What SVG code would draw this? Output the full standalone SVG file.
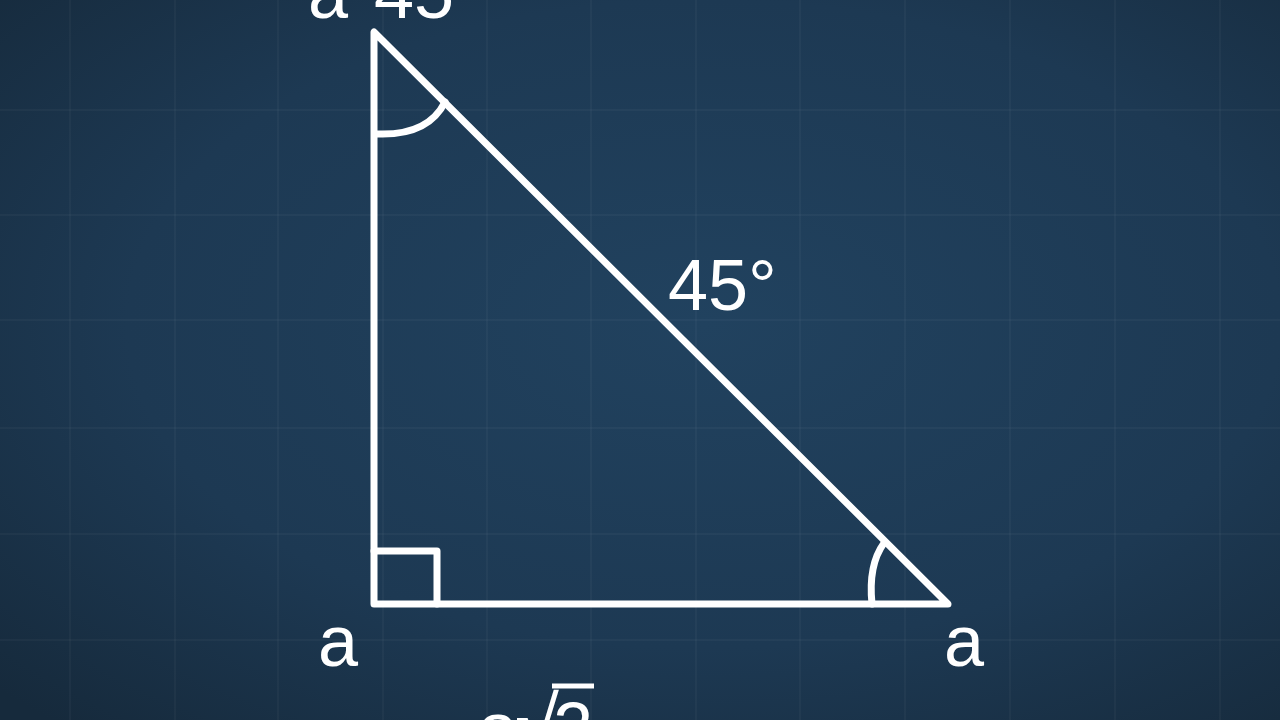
<svg xmlns="http://www.w3.org/2000/svg" width="1280" height="720" viewBox="0 0 1280 720">
<defs>
<radialGradient id="bg" cx="0.55" cy="0.45" r="0.75">
<stop offset="0" stop-color="#21425f"/>
<stop offset="0.6" stop-color="#1d3953"/>
<stop offset="1" stop-color="#162a3c"/>
</radialGradient>
<style>
.grid{stroke:#ffffff;stroke-opacity:0.03;stroke-width:2}
.shape{fill:none;stroke:#ffffff;stroke-width:7;stroke-linejoin:round;stroke-linecap:round}
.lbl{fill:#ffffff;font-family:"Liberation Sans",Arial,sans-serif;font-size:72px}
</style>
</defs>
<rect width="1280" height="720" fill="url(#bg)"/>
<g id="grid">
<path class="grid" d="M70 0V720M175 0V720M278 0V720M383 0V720M487 0V720M591 0V720M696 0V720M800 0V720M905 0V720M1010 0V720M1115 0V720M1220 0V720"/>
<path class="grid" d="M0 110H1280M0 215H1280M0 320H1280M0 428H1280M0 534H1280M0 640H1280"/>
</g>
<g id="triangle">
<path class="shape" d="M374 32 L374 604 L948 604 Z"/>
</g>
<g id="right-angle">
<path class="shape" d="M374 551 H437 V604"/>
</g>
<g id="angle-top">
<path class="shape" d="M377 134 Q428 136 445 102"/>
</g>
<g id="angle-right">
<path class="shape" d="M872 604 Q868 565 884 543"/>
</g>
<g id="labels">
<text class="lbl" x="308" y="18">a</text>
<text class="lbl" x="374" y="18">45°</text>
<text class="lbl" x="668" y="310">45°</text>
<text class="lbl" x="318" y="666">a</text>
<text class="lbl" x="944" y="666">a</text>
<text class="lbl" y="753"><tspan x="478">a</tspan><tspan x="515" font-size="80">√</tspan><tspan x="553">2</tspan></text>
<line x1="552" y1="686" x2="594" y2="686" stroke="#ffffff" stroke-width="5"/>
</g>
</svg>
